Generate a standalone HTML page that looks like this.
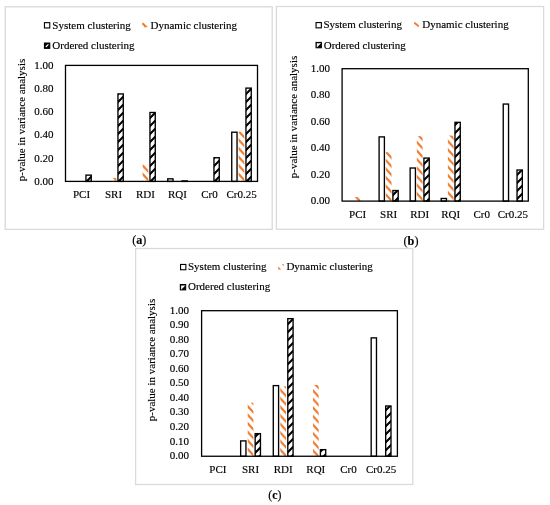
<!DOCTYPE html>
<html><head><meta charset="utf-8"><title>Figure</title>
<style>
html,body{margin:0;padding:0;background:#fff;}
svg{display:block;}
text{font-family:"Liberation Serif",serif;fill:#000;stroke:#000;stroke-width:0.15px;}
</style></head><body>
<svg width="550" height="505" viewBox="0 0 550 505">
<defs>
<pattern id="hb0" patternUnits="userSpaceOnUse" width="8" height="8" patternTransform="translate(0,0)"><rect width="8" height="8" fill="#fff"/><path d="M-4.0,8 L8,-4.0 M0,12.0 L12.0,0 M-4.0,0 L0,-4.0" stroke="#000" stroke-width="2.12"/></pattern>
<pattern id="ho0" patternUnits="userSpaceOnUse" width="8" height="8" patternTransform="translate(0,0) scale(1,1.07)"><rect width="8" height="8" fill="#fff"/><path d="M-4.0,0 L8,12.0 M0,-4.0 L12.0,8 M4.0,-8 L16,4.0" stroke="#ED7D31" stroke-width="2.12"/></pattern>
<pattern id="hb1" patternUnits="userSpaceOnUse" width="8" height="8" patternTransform="translate(0,0)"><rect width="8" height="8" fill="#fff"/><path d="M-4.0,8 L8,-4.0 M0,12.0 L12.0,0 M-4.0,0 L0,-4.0" stroke="#000" stroke-width="2.12"/></pattern>
<pattern id="ho1" patternUnits="userSpaceOnUse" width="8" height="8" patternTransform="translate(0,0) scale(1,1.07)"><rect width="8" height="8" fill="#fff"/><path d="M-4.0,0 L8,12.0 M0,-4.0 L12.0,8 M4.0,-8 L16,4.0" stroke="#ED7D31" stroke-width="2.12"/></pattern>
<pattern id="hb2" patternUnits="userSpaceOnUse" width="8" height="8" patternTransform="translate(0,0)"><rect width="8" height="8" fill="#fff"/><path d="M-4.0,8 L8,-4.0 M0,12.0 L12.0,0 M-4.0,0 L0,-4.0" stroke="#000" stroke-width="2.12"/></pattern>
<pattern id="ho2" patternUnits="userSpaceOnUse" width="8" height="8" patternTransform="translate(0,0) scale(1,1.07)"><rect width="8" height="8" fill="#fff"/><path d="M-4.0,0 L8,12.0 M0,-4.0 L12.0,8 M4.0,-8 L16,4.0" stroke="#ED7D31" stroke-width="2.12"/></pattern>
</defs>
<rect width="550" height="505" fill="#fff"/>
<rect x="5.2" y="6.8" width="267.0" height="222.6" fill="#fff" stroke="#dadada" stroke-width="1.3"/>
<rect x="44.45" y="22.65" width="5.3" height="5.3" fill="#fff" stroke="#000" stroke-width="1.1"/>
<text x="52.3" y="28.8" font-size="11">System clustering</text>
<path d="M142.2,22.8 h1.2 l4.3,4.3 l-2.9,0.4 l-2.6,-3.3 z" fill="#ED7D31"/>
<text x="150.5" y="28.8" font-size="11">Dynamic clustering</text>
<rect x="44.45" y="43.05" width="5.3" height="5.3" fill="#000" stroke="#000" stroke-width="1.1"/><path d="M45.80,47.00 L48.40,44.40" stroke="#fff" stroke-width="1.1"/>
<text x="52.3" y="49" font-size="11">Ordered clustering</text>
<text x="53.5" y="184.70" font-size="11" text-anchor="end">0.00</text>
<text x="53.5" y="161.50" font-size="11" text-anchor="end">0.20</text>
<text x="53.5" y="138.30" font-size="11" text-anchor="end">0.40</text>
<text x="53.5" y="115.10" font-size="11" text-anchor="end">0.60</text>
<text x="53.5" y="91.90" font-size="11" text-anchor="end">0.80</text>
<text x="53.5" y="68.70" font-size="11" text-anchor="end">1.00</text>
<text transform="translate(24.5,120) rotate(-90)" font-size="11" text-anchor="middle">p-value in variance analysis</text>
<text x="81.50" y="198.3" font-size="11" text-anchor="middle">PCI</text>
<rect x="85.96" y="175.12" width="5.30" height="6.29" fill="url(#hb0)" stroke="#000" stroke-width="1.35"/>
<text x="113.50" y="198.3" font-size="11" text-anchor="middle">SRI</text>
<rect x="110.65" y="177.92" width="5.70" height="3.48" fill="url(#ho0)"/>
<rect x="117.96" y="93.92" width="5.30" height="87.48" fill="url(#hb0)" stroke="#000" stroke-width="1.35"/>
<text x="145.50" y="198.3" font-size="11" text-anchor="middle">RDI</text>
<rect x="142.65" y="164.58" width="5.70" height="16.82" fill="url(#ho0)"/>
<rect x="149.96" y="112.48" width="5.30" height="68.92" fill="url(#hb0)" stroke="#000" stroke-width="1.35"/>
<text x="177.50" y="198.3" font-size="11" text-anchor="middle">RQI</text>
<rect x="167.74" y="178.83" width="5.30" height="2.57" fill="#fff" stroke="#000" stroke-width="1.35"/>
<rect x="181.96" y="180.92" width="5.30" height="0.48" fill="url(#hb0)" stroke="#000" stroke-width="1.35"/>
<text x="209.50" y="198.3" font-size="11" text-anchor="middle">Cr0</text>
<rect x="213.96" y="157.72" width="5.30" height="23.68" fill="url(#hb0)" stroke="#000" stroke-width="1.35"/>
<text x="241.50" y="198.3" font-size="11" text-anchor="middle">Cr0.25</text>
<rect x="231.74" y="132.20" width="5.30" height="49.21" fill="#fff" stroke="#000" stroke-width="1.35"/>
<rect x="238.65" y="131.52" width="5.70" height="49.88" fill="url(#ho0)"/>
<rect x="245.96" y="88.11" width="5.30" height="93.29" fill="url(#hb0)" stroke="#000" stroke-width="1.35"/>
<rect x="65.5" y="65.4" width="192.0" height="116.0" fill="none" stroke="#000" stroke-width="1.3"/>
<text x="139.3" y="244.4" font-size="12.1" text-anchor="middle">(<tspan font-weight="bold">a</tspan>)</text>
<rect x="276.4" y="6.5" width="267.20000000000005" height="222.8" fill="#fff" stroke="#dadada" stroke-width="1.3"/>
<rect x="316.05" y="22.55" width="5.3" height="5.3" fill="#fff" stroke="#000" stroke-width="1.1"/>
<text x="323.4" y="28" font-size="11">System clustering</text>
<path d="M414.7,23.0 l3.6,3" stroke="#ED7D31" stroke-width="1.7" stroke-linecap="round"/>
<text x="422.2" y="28" font-size="11">Dynamic clustering</text>
<rect x="316.05" y="42.45" width="5.3" height="5.3" fill="#000" stroke="#000" stroke-width="1.1"/><path d="M316.80,43.30 h4.3 l-4.3,4.3 z" fill="#fff"/>
<text x="323.7" y="48.5" font-size="11">Ordered clustering</text>
<text x="330" y="204.10" font-size="11" text-anchor="end">0.00</text>
<text x="330" y="177.62" font-size="11" text-anchor="end">0.20</text>
<text x="330" y="151.14" font-size="11" text-anchor="end">0.40</text>
<text x="330" y="124.66" font-size="11" text-anchor="end">0.60</text>
<text x="330" y="98.18" font-size="11" text-anchor="end">0.80</text>
<text x="330" y="71.70" font-size="11" text-anchor="end">1.00</text>
<text transform="translate(297.2,117) rotate(-90)" font-size="11" text-anchor="middle">p-value in variance analysis</text>
<text x="357.62" y="218" font-size="11" text-anchor="middle">PCI</text>
<rect x="354.77" y="197.13" width="5.70" height="3.97" fill="url(#ho1)"/>
<text x="388.65" y="218" font-size="11" text-anchor="middle">SRI</text>
<rect x="379.10" y="136.90" width="5.30" height="64.20" fill="#fff" stroke="#000" stroke-width="1.35"/>
<rect x="385.80" y="152.11" width="5.70" height="48.99" fill="url(#ho1)"/>
<rect x="392.90" y="190.52" width="5.30" height="10.58" fill="url(#hb1)" stroke="#000" stroke-width="1.35"/>
<text x="419.68" y="218" font-size="11" text-anchor="middle">RDI</text>
<rect x="410.14" y="168.01" width="5.30" height="33.09" fill="#fff" stroke="#000" stroke-width="1.35"/>
<rect x="416.83" y="136.22" width="5.70" height="64.88" fill="url(#ho1)"/>
<rect x="423.93" y="158.08" width="5.30" height="43.02" fill="url(#hb1)" stroke="#000" stroke-width="1.35"/>
<text x="450.72" y="218" font-size="11" text-anchor="middle">RQI</text>
<rect x="441.17" y="198.47" width="5.30" height="2.63" fill="#fff" stroke="#000" stroke-width="1.35"/>
<rect x="447.87" y="135.56" width="5.70" height="65.54" fill="url(#ho1)"/>
<rect x="454.96" y="122.34" width="5.30" height="78.76" fill="url(#hb1)" stroke="#000" stroke-width="1.35"/>
<text x="481.75" y="218" font-size="11" text-anchor="middle">Cr0</text>
<text x="512.78" y="218" font-size="11" text-anchor="middle">Cr0.25</text>
<rect x="503.24" y="104.06" width="5.30" height="97.04" fill="#fff" stroke="#000" stroke-width="1.35"/>
<rect x="517.03" y="170.00" width="5.30" height="31.10" fill="url(#hb1)" stroke="#000" stroke-width="1.35"/>
<rect x="342.1" y="68.7" width="186.19999999999993" height="132.39999999999998" fill="none" stroke="#000" stroke-width="1.3"/>
<text x="411" y="244.6" font-size="12.2" text-anchor="middle">(<tspan font-weight="bold">b</tspan>)</text>
<rect x="135.6" y="248.5" width="277.20000000000005" height="236.0" fill="#fff" stroke="#dadada" stroke-width="1.3"/>
<rect x="180.55" y="264.45" width="5.3" height="5.3" fill="#fff" stroke="#000" stroke-width="1.1"/>
<text x="188" y="270" font-size="11">System clustering</text>
<path d="M278.2,266.59999999999997 v2.9 h3.1 z M281.7,264.2 h2.3 v1.7 z" fill="#ED7D31"/>
<text x="286.4" y="270" font-size="11">Dynamic clustering</text>
<rect x="180.35" y="284.55" width="5.3" height="5.3" fill="#000" stroke="#000" stroke-width="1.1"/><path d="M181.10,285.40 h4.3 l-4.3,4.3 z" fill="#fff"/>
<text x="188" y="290.2" font-size="11">Ordered clustering</text>
<text x="189" y="459.15" font-size="11" text-anchor="end">0.00</text>
<text x="189" y="444.59" font-size="11" text-anchor="end">0.10</text>
<text x="189" y="430.04" font-size="11" text-anchor="end">0.20</text>
<text x="189" y="415.48" font-size="11" text-anchor="end">0.30</text>
<text x="189" y="400.93" font-size="11" text-anchor="end">0.40</text>
<text x="189" y="386.38" font-size="11" text-anchor="end">0.50</text>
<text x="189" y="371.82" font-size="11" text-anchor="end">0.60</text>
<text x="189" y="357.26" font-size="11" text-anchor="end">0.70</text>
<text x="189" y="342.71" font-size="11" text-anchor="end">0.80</text>
<text x="189" y="328.15" font-size="11" text-anchor="end">0.90</text>
<text x="189" y="313.60" font-size="11" text-anchor="end">1.00</text>
<text transform="translate(155.3,360) rotate(-90)" font-size="11" text-anchor="middle">p-value in variance analysis</text>
<text x="217.92" y="473" font-size="11" text-anchor="middle">PCI</text>
<text x="250.55" y="473" font-size="11" text-anchor="middle">SRI</text>
<rect x="240.65" y="440.91" width="5.30" height="15.34" fill="#fff" stroke="#000" stroke-width="1.35"/>
<rect x="247.70" y="402.69" width="5.70" height="53.56" fill="url(#ho2)"/>
<rect x="255.15" y="433.64" width="5.30" height="22.61" fill="url(#hb2)" stroke="#000" stroke-width="1.35"/>
<text x="283.18" y="473" font-size="11" text-anchor="middle">RDI</text>
<rect x="273.28" y="385.61" width="5.30" height="70.64" fill="#fff" stroke="#000" stroke-width="1.35"/>
<rect x="280.33" y="386.39" width="5.70" height="69.86" fill="url(#ho2)"/>
<rect x="287.79" y="318.65" width="5.30" height="137.60" fill="url(#hb2)" stroke="#000" stroke-width="1.35"/>
<text x="315.82" y="473" font-size="11" text-anchor="middle">RQI</text>
<rect x="312.97" y="384.93" width="5.70" height="71.32" fill="url(#ho2)"/>
<rect x="320.42" y="449.65" width="5.30" height="6.60" fill="url(#hb2)" stroke="#000" stroke-width="1.35"/>
<text x="348.45" y="473" font-size="11" text-anchor="middle">Cr0</text>
<text x="381.08" y="473" font-size="11" text-anchor="middle">Cr0.25</text>
<rect x="371.18" y="337.87" width="5.30" height="118.38" fill="#fff" stroke="#000" stroke-width="1.35"/>
<rect x="385.69" y="405.98" width="5.30" height="50.27" fill="url(#hb2)" stroke="#000" stroke-width="1.35"/>
<rect x="201.6" y="310.7" width="195.79999999999998" height="145.55" fill="none" stroke="#000" stroke-width="1.3"/>
<text x="274.8" y="499.2" font-size="11.8" text-anchor="middle">(<tspan font-weight="bold">c</tspan>)</text>
</svg>
</body></html>
